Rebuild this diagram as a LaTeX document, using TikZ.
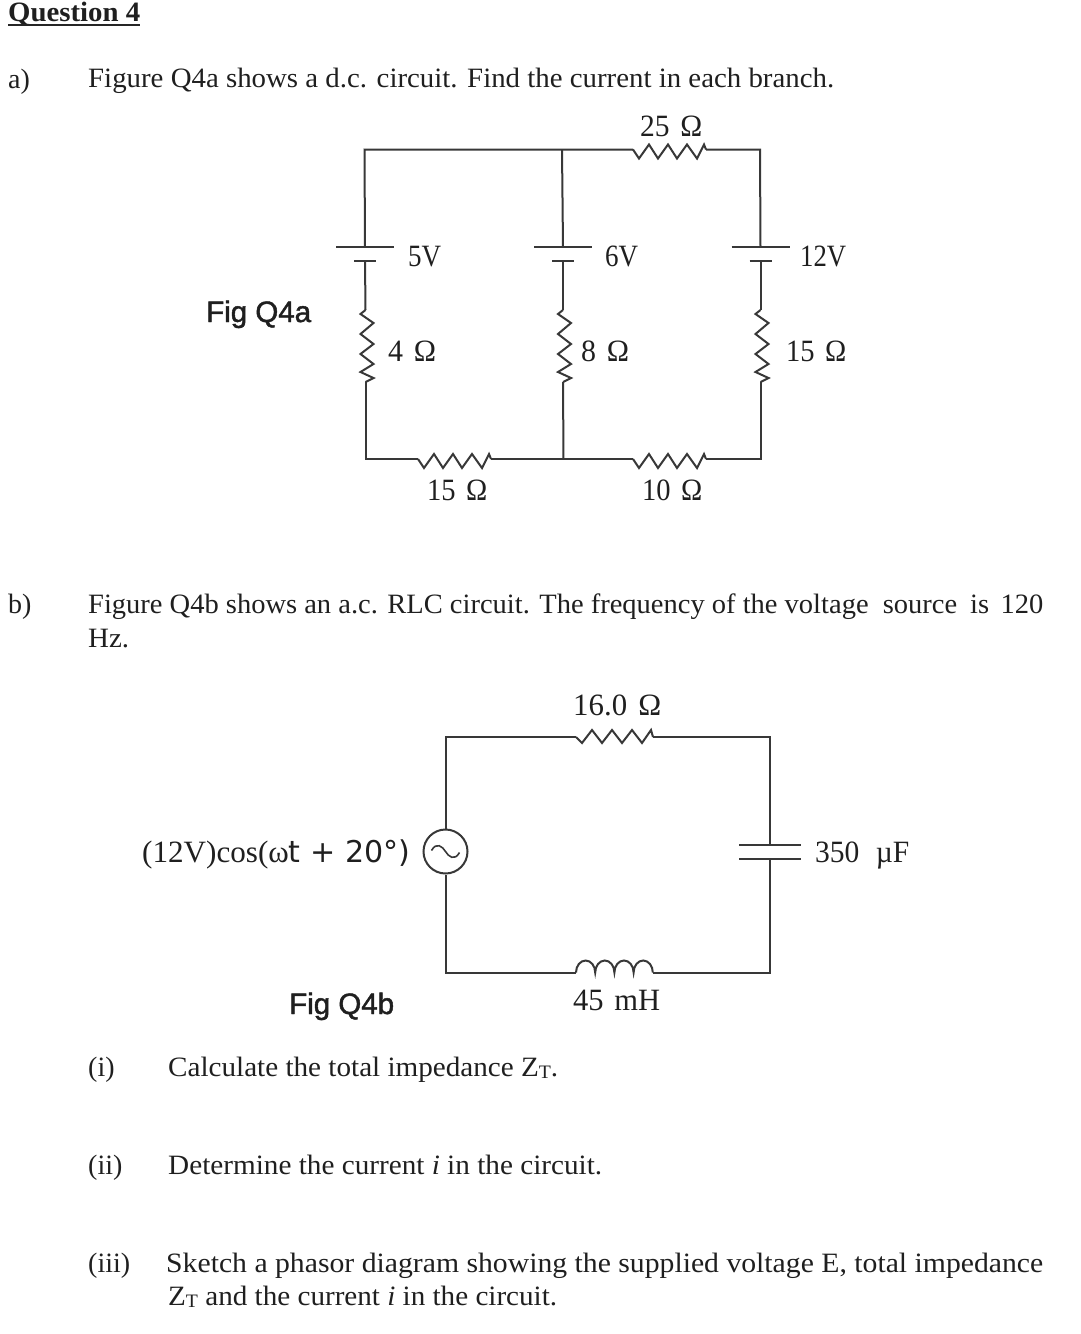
\documentclass[tikz,border=0pt]{standalone}
\usepackage{graphicx}
\usepackage{fontspec}
\setmainfont{Liberation Serif}
\newfontfamily\bodyfont{Liberation Serif}
\newfontfamily\figfont[FakeBold=1.5]{Liberation Sans}
\newfontfamily\mathlike{DejaVu Sans}
\newcommand{\ZT}{Z\raisebox{-0.22ex}{\fontsize{19}{20}\selectfont T}}
\newcommand{\Om}{\hspace{0.36em}Ω}
\newcommand{\fitw}[2]{\resizebox{#1pt}{\height}{#2}}
\tikzset{
  x=1pt,y=-1pt,
  wire/.style={line width=2pt,draw=black!78,line join=miter},
  body/.style={anchor=base west,inner sep=0pt,text=black!88,font=\bodyfont\fontsize{28}{30}\selectfont},
  lab/.style={anchor=base west,inner sep=0pt,text=black!88,font=\fontsize{31}{33}\selectfont},
  figlab/.style={anchor=base west,inner sep=0pt,text=black!88,font=\figfont\fontsize{29.5}{31}\selectfont},
  hres/.pic={
    \coordinate (-in) at (0,0); \coordinate (-out) at (73,0);
    \draw[wire] (0,0)--(6,9)--(16,-5)--(25,9)--(35,-5)--(44,9)--(54,-5)--(64,9)--(71,-5)--(73,0);
  },
  hresb/.pic={
    \coordinate (-in) at (0,0); \coordinate (-out) at (77,0);
    \draw[wire] (0,0)--(6,6)--(16,-7)--(26,6)--(36,-7)--(46,6)--(56,-7)--(66,6)--(75,-7)--(77,0);
  },
  vres/.pic={
    \coordinate (-in) at (0,0); \coordinate (-out) at (0,72);
    \draw[wire] (0,0)--(-5,4)--(8,13)--(-5,24)--(8,34)--(-5,44)--(8,54)--(-5,62)--(8,68)--(0,72);
  },
  batt/.pic={
    \coordinate (-a) at (0,0); \coordinate (-b) at (0,14);
    \draw[wire] (-29,0)--(29,0);
    \draw[wire] (-11,14)--(11,14);
  },
  capac/.pic={
    \coordinate (-a) at (0,0); \coordinate (-b) at (0,14);
    \draw[wire] (-31,0)--(31,0);
    \draw[wire] (-31,14)--(31,14);
  },
  ind/.pic={
    \coordinate (-in) at (0,0); \coordinate (-out) at (77,0);
    \draw[wire] (0,0) arc[start angle=180,end angle=360,x radius=9.6,y radius=12]
      arc[start angle=180,end angle=360,x radius=9.6,y radius=12]
      arc[start angle=180,end angle=360,x radius=9.6,y radius=12]
      arc[start angle=180,end angle=360,x radius=9.6,y radius=12];
  },
  srcnode/.style={circle,draw=black!78,line width=2pt,minimum size=44pt,inner sep=0pt}
}
\begin{document}
\begin{tikzpicture}
\useasboundingbox (0,0) rectangle (1080,1334);
% text
\node[body,font=\bodyfont\bfseries\fontsize{28}{30}\selectfont] (q4) at (8,21) {\fitw{132}{Question 4}};
\coordinate (ul1) at (8,25); \coordinate (ul2) at (140,25);
\draw[line width=1.6pt,draw=black!85] (ul1)--(ul2);
\node[body] (a) at (8,88) {a)};
\node[body] (atxt) at (88,87) {\fitw{746}{Figure Q4a shows a d.c. circuit. Find the current in each branch.}};
\node[body] (b) at (8,613) {b)};
\node[body] (btxt) at (88,613) {\fitw{955}{Figure Q4b shows an a.c. RLC circuit. The frequency of the voltage\hspace{0.25em} source\hspace{0.2em} is\hspace{0.15em} 120}};
\node[body] (hz) at (88,647) {\fitw{41}{Hz.}};
\node[body] (i) at (88,1076) {(i)};
\node[body] (itxt) at (168,1076) {\fitw{390}{Calculate the total impedance \ZT.}};
\node[body] (ii) at (88,1174) {(ii)};
\node[body] (iitxt) at (168,1174) {\fitw{434}{Determine the current \textit{i} in the circuit.}};
\node[body] (iii) at (88,1272) {(iii)};
\node[body] (iiitxt) at (166,1272) {\fitw{877}{Sketch a phasor diagram showing the supplied voltage E, total impedance}};
\node[body] (iiitxtb) at (168,1305) {\fitw{389}{\ZT{} and the current \textit{i} in the circuit.}};
% circuit a
\coordinate (tl) at (364.5,149.5); \coordinate (tm) at (562,149.5); \coordinate (tr) at (760,149.5);
\coordinate (bl) at (365.5,459); \coordinate (bm) at (563.5,459); \coordinate (br) at (760.5,459);
\pic (r25) at (633,149.5) {hres};
\pic (r15b) at (418,459) {hres};
\pic (r10) at (633,459) {hres};
\pic (b5) at (365,247) {batt};
\pic (b6) at (563,247) {batt};
\pic (b12) at (760.5,247) {batt};
\pic (r4) at (365.5,310) {vres};
\pic (r8) at (563,310) {vres};
\pic (r15) at (760.5,310) {vres};
\draw[wire] (b5-a)--(tl)--(tm)--(r25-in);
\draw[wire] (r25-out)--(tr)--(b12-a);
\draw[wire] (tm)--(b6-a);
\draw[wire] (b5-b)--(r4-in);
\draw[wire] (b6-b)--(r8-in);
\draw[wire] (b12-b)--(r15-in);
\draw[wire] (r4-out)--(bl)--(r15b-in);
\draw[wire] (r15b-out)--(bm)--(r10-in);
\draw[wire] (r10-out)--(br)--(r15-out);
\draw[wire] (r8-out)--(bm);
\node[lab] (l25) at (640,136) {\fitw{62}{25\Om}};
\node[lab] (l5) at (408,266) {\fitw{33}{5V}};
\node[lab] (l6) at (605,266) {\fitw{33}{6V}};
\node[lab] (l12) at (800,266) {\fitw{46}{12V}};
\node[figlab] (figa) at (206,322) {Fig Q4a};
\node[lab] (l4) at (388,361) {\fitw{48}{4\Om}};
\node[lab] (l8) at (581,361) {\fitw{48}{8\Om}};
\node[lab] (l15) at (786,361) {\fitw{60}{15\Om}};
\node[lab] (l15b) at (427,500) {\fitw{60}{15\Om}};
\node[lab] (l10) at (642,500) {\fitw{60}{10\Om}};
% circuit b
\coordinate (ctl) at (445.5,737); \coordinate (ctr) at (770,737);
\coordinate (cbl) at (445.5,972.5); \coordinate (cbr) at (770,972.5);
\node[srcnode] (src) at (445.5,851.5) {};
\draw[wire,line width=1.6pt] ([xshift=-14pt,yshift=1pt]src.center) .. controls ([xshift=-9pt,yshift=10pt]src.center) and ([xshift=-3pt,yshift=5pt]src.center) .. (src.center) .. controls ([xshift=3pt,yshift=-5pt]src.center) and ([xshift=9pt,yshift=-10pt]src.center) .. ([xshift=14pt,yshift=-1pt]src.center);
\pic (rs) at (576,737) {hresb};
\pic (ls) at (576,972.5) {ind};
\pic (cs) at (770,844.5) {capac};
\draw[wire] (src)--(ctl)--(rs-in);
\draw[wire] (rs-out)--(ctr)--(cs-a);
\draw[wire] (cs-b)--(cbr)--(ls-out);
\draw[wire] (ls-in)--(cbl)--(src);
\node[lab] (l16) at (573,715) {\fitw{88}{16.0\Om}};
\node[lab] (lsrc) at (142,862) {\fitw{268}{(12V)cos(ω{\mathlike\fontsize{30}{32}\selectfont t + 20°)}}};
\node[lab] (l350) at (815,862) {\fitw{94}{350\hspace{0.3em} µF}};
\node[figlab] (figb) at (289,1014) {Fig Q4b};
\node[lab] (l45) at (573,1010) {\fitw{87}{45\hspace{0.1em} mH}};
\end{tikzpicture}
\end{document}
